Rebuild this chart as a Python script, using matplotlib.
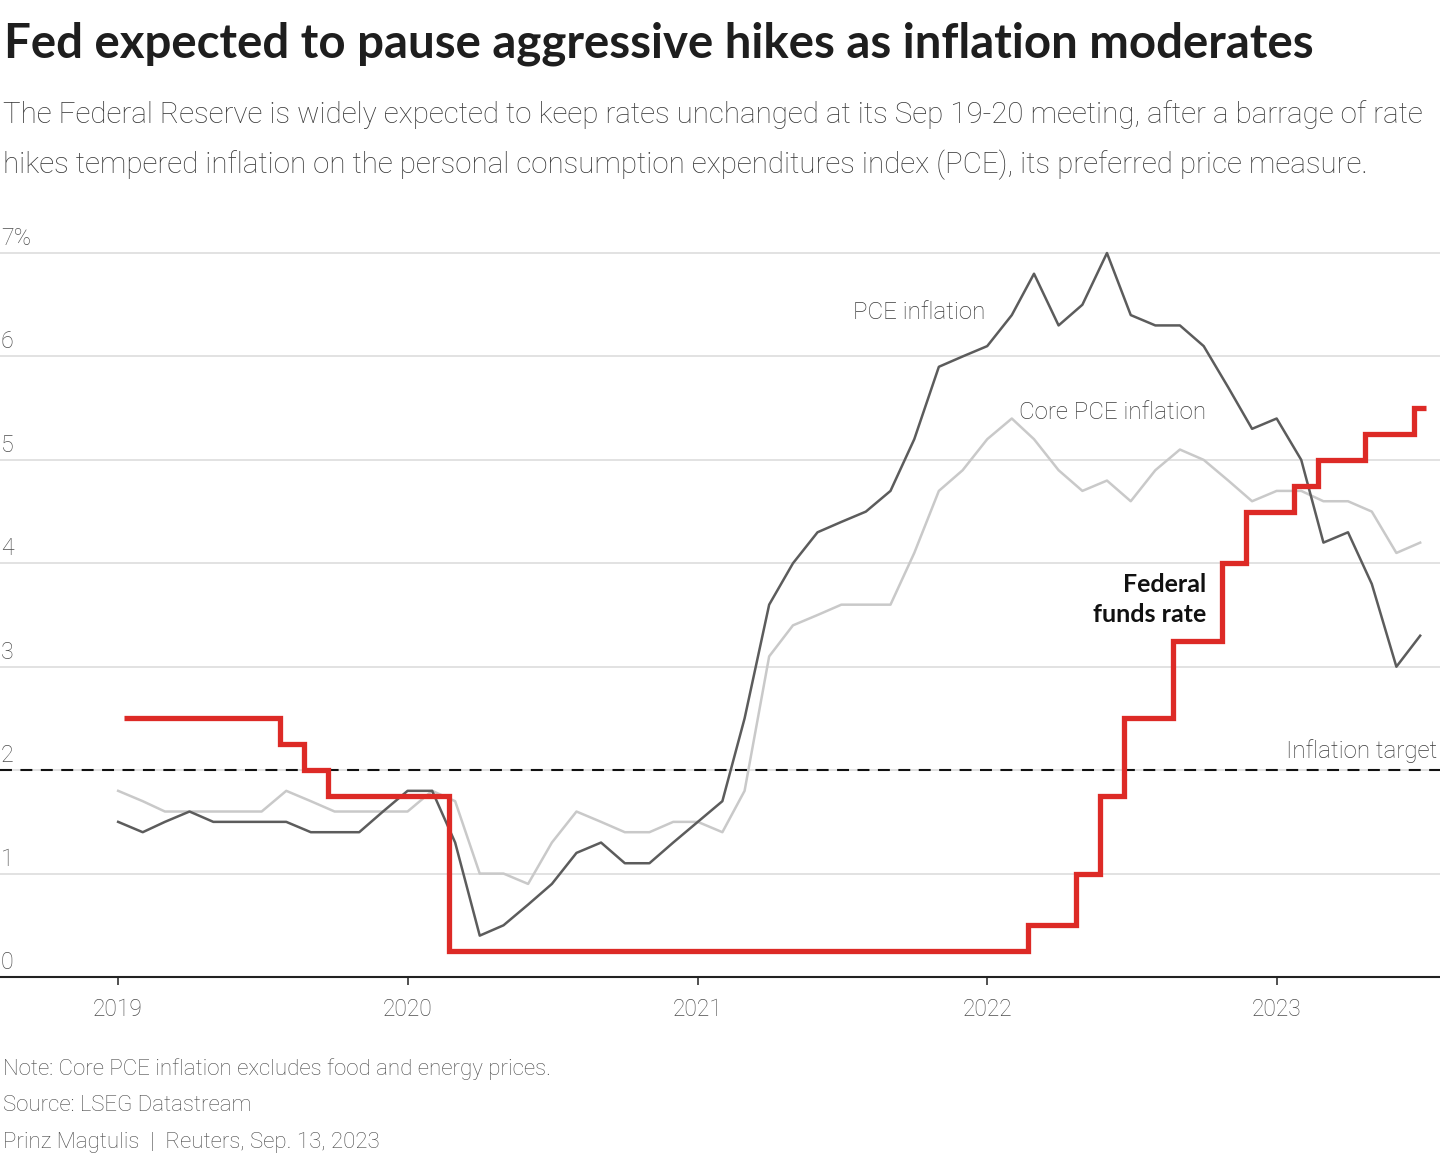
"""Fed funds rate vs PCE inflation (Reuters-style line chart)."""

import matplotlib

matplotlib.use("Agg")
import matplotlib.pyplot as plt
import pandas as pd
from matplotlib.transforms import IdentityTransform

plt.rcParams["font.family"] = ["Lato", "DejaVu Sans"]
plt.rcParams["lines.scale_dashes"] = False

# Monthly observations, Jan 2019 - Jul 2023 (year-over-year %, rate in %)
months = pd.date_range("2019-01-01", "2023-07-01", freq="MS")

pce_inflation = [
    1.5, 1.4, 1.5, 1.6, 1.5, 1.5, 1.5, 1.5, 1.4, 1.4, 1.4, 1.6,  # 2019
    1.8, 1.8, 1.3, 0.4, 0.5, 0.7, 0.9, 1.2, 1.3, 1.1, 1.1, 1.3,  # 2020
    1.5, 1.7, 2.5, 3.6, 4.0, 4.3, 4.4, 4.5, 4.7, 5.2, 5.9, 6.0,  # 2021
    6.1, 6.4, 6.8, 6.3, 6.5, 7.0, 6.4, 6.3, 6.3, 6.1, 5.7, 5.3,  # 2022
    5.4, 5.0, 4.2, 4.3, 3.8, 3.0, 3.3,                           # 2023
]
core_pce_inflation = [
    1.8, 1.7, 1.6, 1.6, 1.6, 1.6, 1.6, 1.8, 1.7, 1.6, 1.6, 1.6,
    1.6, 1.8, 1.7, 1.0, 1.0, 0.9, 1.3, 1.6, 1.5, 1.4, 1.4, 1.5,
    1.5, 1.4, 1.8, 3.1, 3.4, 3.5, 3.6, 3.6, 3.6, 4.1, 4.7, 4.9,
    5.2, 5.4, 5.2, 4.9, 4.7, 4.8, 4.6, 4.9, 5.1, 5.0, 4.8, 4.6,
    4.7, 4.7, 4.6, 4.6, 4.5, 4.1, 4.2,
]
fed_funds_rate = [
    2.5, 2.5, 2.5, 2.5, 2.5, 2.5, 2.5, 2.25, 2.0, 1.75, 1.75, 1.75,
    1.75, 1.75, 0.25, 0.25, 0.25, 0.25, 0.25, 0.25, 0.25, 0.25, 0.25, 0.25,
    0.25, 0.25, 0.25, 0.25, 0.25, 0.25, 0.25, 0.25, 0.25, 0.25, 0.25, 0.25,
    0.25, 0.25, 0.5, 0.5, 1.0, 1.75, 2.5, 2.5, 3.25, 3.25, 4.0, 4.5,
    4.5, 4.75, 5.0, 5.0, 5.25, 5.25, 5.5,
]
inflation_target = 2.0

years = [2019, 2020, 2021, 2022, 2023]
y_ticks = [0, 1, 2, 3, 4, 5, 6, 7]
y_tick_labels = ["0", "1", "2", "3", "4", "5", "6", "7%"]

TITLE = "Fed expected to pause aggressive hikes as inflation moderates"
SUBTITLE = [
    "The Federal Reserve is widely expected to keep rates unchanged at its Sep 19-20 meeting, after a barrage of rate",
    "hikes tempered inflation on the personal consumption expenditures index (PCE), its preferred price measure.",
]
NOTES = [
    "Note: Core PCE inflation excludes food and energy prices.",
    "Source: LSEG Datastream",
    "Prinz Magtulis  |  Reuters, Sep. 13, 2023",
]

LIGHT = dict(family=["Roboto", "Lato", "DejaVu Sans"], weight="light")

W, H = 1440, 1154
fig = plt.figure(figsize=(W / 100, H / 100), dpi=100)
fig.patch.set_facecolor("white")
renderer = fig.canvas.get_renderer()


def put(s, x, y, width=None, size=None, ha="left", **kw):
    """Text at pixel position (x, baseline y from top); optionally fit to width."""
    t = fig.text(x, H - y, s, ha=ha, va="baseline", transform=IdentityTransform(), **kw)
    if width:
        t.set_fontsize(20)
        w = t.get_window_extent(renderer).width
        t.set_fontsize(20 * width / w)
    elif size:
        t.set_fontsize(size)
    return t


def fitted_size(s, width, **kw):
    probe = put(s, 0, 0, width=width, **kw)
    size = probe.get_fontsize()
    probe.remove()
    return size


# Header
put(TITLE, 4, 58, width=1312, weight="bold", color="#1e1e1e")
sub = put(SUBTITLE[0], 3, 123, width=1419, color="#383838", **LIGHT)
put(SUBTITLE[1], 3, 173, size=sub.get_fontsize(), color="#383838", **LIGHT)

# Footer
note = put(NOTES[0], 3, 1075, width=547, color="#4a4a4a", **LIGHT)
put(NOTES[1], 3, 1111, size=note.get_fontsize(), color="#4a4a4a", **LIGHT)
put(NOTES[2], 3, 1148, size=note.get_fontsize(), color="#4a4a4a", **LIGHT)

# Axes: 0 at y=977 px, 1 unit = 103.4 px
ax = fig.add_axes([0, 1 - 977 / H, 1, (977 - 222) / H])
ax.set_facecolor("none")

ax.plot(months, core_pce_inflation, color="#c9c9c9", lw=1.8, zorder=2)
ax.plot(months, pce_inflation, color="#5c5c5c", lw=1.8, zorder=2.1)
ax.axhline(inflation_target, color="#111111", lw=1.5, dashes=(8.6, 6.1), zorder=2.5)
fed_dates = months + pd.Timedelta(days=7)
ax.plot(
    fed_dates,
    fed_funds_rate,
    color="#dd2a26",
    lw=3.8,
    drawstyle="steps-mid",
    solid_joinstyle="miter",
    solid_capstyle="butt",
    zorder=3,
)

ax.set_ylim(0, 7.3)
ax.set_xlim(pd.Timestamp("2018-08-05"), pd.Timestamp("2023-07-26"))

for side in ["top", "left", "right"]:
    ax.spines[side].set_visible(False)
ax.spines["bottom"].set_color("#222222")
ax.spines["bottom"].set_linewidth(1.5)

ax.set_yticks(y_ticks)
ax.set_yticklabels([])
ax.tick_params(axis="y", length=0)
ax.grid(axis="y", color="#dadada", lw=1.1, zorder=0)

# Label sizes fitted to widths measured on the reference
x_tick_size = fitted_size("2019", 50, **LIGHT)
y_tick_size = fitted_size("7%", 30, **LIGHT)

ax.set_xticks([pd.Timestamp(f"{y}-01-01") for y in years])
ax.set_xticklabels([str(y) for y in years], fontsize=x_tick_size, color="#4d4d4d", **LIGHT)
ax.tick_params(axis="x", length=5.8, width=1.1, color="#222222", pad=9)

for v, lab in zip(y_ticks, y_tick_labels):
    ax.annotate(
        lab,
        xy=(0, v),
        xycoords=("axes fraction", "data"),
        xytext=(1, 8),
        textcoords="offset pixels",
        va="baseline",
        ha="left",
        fontsize=y_tick_size,
        color="#4d4d4d",
        **LIGHT,
    )

# Series labels
lab = put("Core PCE inflation", 1019, 419, width=187, color="#3a3a3a", **LIGHT)
put("PCE inflation", 853, 319, size=lab.get_fontsize(), color="#3a3a3a", **LIGHT)
put("Inflation target", 1437, 758, size=lab.get_fontsize(), ha="right", color="#3a3a3a", **LIGHT)
ff = put("funds rate", 1206, 622, width=113, ha="right", weight="bold", color="#111111")
put("Federal", 1206, 592, size=ff.get_fontsize(), ha="right", weight="bold", color="#111111")

fig.savefig("out.png", dpi=100)
